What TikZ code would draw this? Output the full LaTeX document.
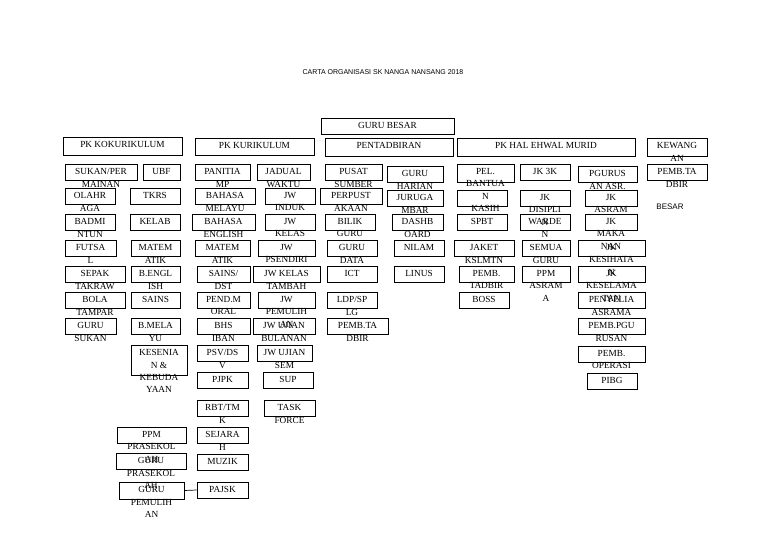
\documentclass[tikz,border=0pt]{standalone}
\usepackage{fontspec}
\setmainfont{Liberation Serif}
\newfontfamily\sansf{Liberation Sans}
\newcommand\bx[6]{\node[box,minimum width={#4-#2},minimum height={#5-#3}] (#1) at ({(#2+#4)/2},{(#3+#5)/2}) {};
\node[lbl] (#1t) at ({(#2+#4)/2},{#3+4.5}) {#6};}
\begin{document}
\begin{tikzpicture}[x=1pt,y=-1pt,
 box/.style={draw,line width=0.9pt,inner sep=0pt},
 lbl/.style={anchor=north,inner sep=0pt,align=center,font=\fontsize{9.3}{12.2}\selectfont}]
\useasboundingbox[fill=white] (0,0) rectangle (768,543);
\node[font=\sansf\fontsize{7}{8}\selectfont] (title) at (383,72) {CARTA ORGANISASI SK NANGA NANSANG 2018};
\node[font=\sansf\fontsize{8}{9}\selectfont] (besar) at (670,207) {BESAR};
% heads
\bx{gb}{321}{118}{454}{134}{GURU BESAR}
\bx{kok}{63}{137}{182}{155}{PK KOKURIKULUM}
\bx{kur}{195}{138}{314}{155}{PK KURIKULUM}
\bx{pen}{325}{138}{453}{156}{PENTADBIRAN}
\bx{hem}{457}{138}{635}{156}{PK HAL EHWAL MURID}
\bx{kew}{647}{138}{707}{156}{KEWANG\\AN}
% kokurikulum
\bx{a1}{65}{164}{137}{180}{SUKAN/PER\\MAINAN}
\bx{a2}{65}{188}{115}{204}{OLAHR\\AGA}
\bx{a3}{65}{214}{115}{230}{BADMI\\NTUN}
\bx{a4}{65}{240}{116}{256}{FUTSA\\L}
\bx{a5}{65}{266}{125}{282}{SEPAK\\TAKRAW}
\bx{a6}{65}{292}{125}{308}{BOLA\\TAMPAR}
\bx{a7}{65}{318}{116}{334}{GURU\\SUKAN}
\bx{b1}{143}{164}{180}{180}{UBF}
\bx{b2}{130}{188}{180}{204}{TKRS}
\bx{b3}{130}{214}{180}{230}{KELAB}
\bx{b4}{131}{240}{180}{256}{MATEM\\ATIK}
\bx{b5}{131}{266}{180}{282}{B.ENGL\\ISH}
\bx{b6}{131}{292}{180}{308}{SAINS}
\bx{b7}{131}{318}{180}{334}{B.MELA\\YU}
\bx{b8}{131}{345}{187}{375}{KESENIA\\N \&\\KEBUDA\\YAAN}
\bx{p1}{117}{427}{186}{443}{PPM\\PRASEKOL\\AH}
\bx{p2}{116}{453}{186}{469}{GURU\\PRASEKOL\\AH}
\bx{p3}{119}{482}{184}{499}{GURU\\PEMULIH\\AN}
% kurikulum
\bx{c1}{195}{164}{250}{180}{PANITIA\\MP}
\bx{c2}{195}{188}{255}{204}{BAHASA\\MELAYU}
\bx{c3}{192}{214}{255}{230}{BAHASA\\ENGLISH}
\bx{c4}{195}{240}{250}{256}{MATEM\\ATIK}
\bx{c5}{197}{266}{250}{282}{SAINS/\\DST}
\bx{c6}{197}{292}{250}{308}{PEND.M\\ORAL}
\bx{c7}{197}{318}{250}{334}{BHS\\IBAN}
\bx{c8}{197}{345}{248}{361}{PSV/DS\\V}
\bx{c9}{197}{372}{248}{388}{PJPK}
\bx{c10}{197}{400}{248}{416}{RBT/TM\\K}
\bx{c11}{197}{427}{248}{443}{SEJARA\\H}
\bx{c12}{197}{454}{248}{470}{MUZIK}
\bx{c13}{197}{482}{248}{498}{PAJSK}
\bx{d1}{257}{164}{310}{180}{JADUAL\\WAKTU}
\bx{d2}{265}{188}{315}{204}{JW\\INDUK}
\bx{d3}{265}{214}{315}{230}{JW\\KELAS}
\bx{d4}{258}{240}{315}{256}{JW\\PSENDIRI}
\bx{d5}{253}{266}{320}{282}{JW KELAS\\TAMBAH}
\bx{d6}{258}{292}{315}{308}{JW\\PEMULIH\\AN}
\bx{d7}{253}{318}{315}{334}{JW UJIAN\\BULANAN}
\bx{d8}{257}{345}{312}{361}{JW UJIAN\\SEM}
\bx{d9}{263}{372}{313}{388}{SUP}
\bx{d10}{264}{400}{315}{416}{TASK\\FORCE}
% pentadbiran
\bx{e1}{325}{164}{382}{180}{PUSAT\\SUMBER}
\bx{e2}{320}{188}{382}{204}{PERPUST\\AKAAN}
\bx{e3}{325}{214}{375}{230}{BILIK\\GURU}
\bx{e4}{327}{240}{377}{256}{GURU\\DATA}
\bx{e5}{327}{266}{377}{282}{ICT}
\bx{e6}{327}{292}{377}{308}{LDP/SP\\LG}
\bx{e7}{327}{318}{388}{334}{PEMB.TA\\DBIR}
\bx{f1}{387}{166}{443}{182}{GURU\\HARIAN}
\bx{f2}{387}{190}{443}{206}{JURUGA\\MBAR}
\bx{f3}{392}{214}{443}{230}{DASHB\\OARD}
\bx{f4}{394}{240}{444}{256}{NILAM}
\bx{f5}{394}{266}{444}{282}{LINUS}
% hem
\bx{g1}{457}{164}{514}{182}{PEL.\\BANTUA\\N\\KASIH}
\bx{g2}{457}{190}{507}{206}{}
\bx{g3}{457}{214}{507}{230}{SPBT}
\bx{g4}{454}{240}{514}{256}{JAKET\\KSLMTN}
\bx{g5}{459}{266}{514}{282}{PEMB.\\TADBIR}
\bx{g6}{459}{292}{509}{308}{BOSS}
\bx{h1}{520}{164}{570}{180}{JK 3K}
\bx{h2}{520}{190}{570}{206}{JK\\DISIPLI\\N}
\bx{h3}{520}{214}{570}{230}{WARDE\\N}
\bx{h4}{522}{240}{570}{256}{SEMUA\\GURU}
\bx{h5}{522}{266}{570}{282}{PPM\\ASRAM\\A}
\bx{i1}{578}{166}{637}{182}{PGURUS\\AN ASR.}
\bx{i2}{585}{190}{637}{206}{JK\\ASRAM}
\bx{i3}{585}{214}{637}{230}{JK\\MAKA\\NAN}
\bx{i4}{578}{240}{645}{256}{JK\\KESIHATA\\N}
\bx{i5}{578}{266}{645}{282}{JK\\KESELAMA\\TAN}
\bx{i6}{578}{292}{645}{308}{PENYELIA\\ASRAMA}
\bx{i7}{578}{318}{645}{334}{PEMB.PGU\\RUSAN}
\bx{i8}{578}{346}{645}{362}{PEMB.\\OPERASI}
\bx{i9}{587}{373}{637}{389}{PIBG}
\bx{k1}{647}{164}{707}{180}{PEMB.TA\\DBIR}
\draw[line width=0.7pt] (p3.east) -- (c13.west);
\end{tikzpicture}
\end{document}
